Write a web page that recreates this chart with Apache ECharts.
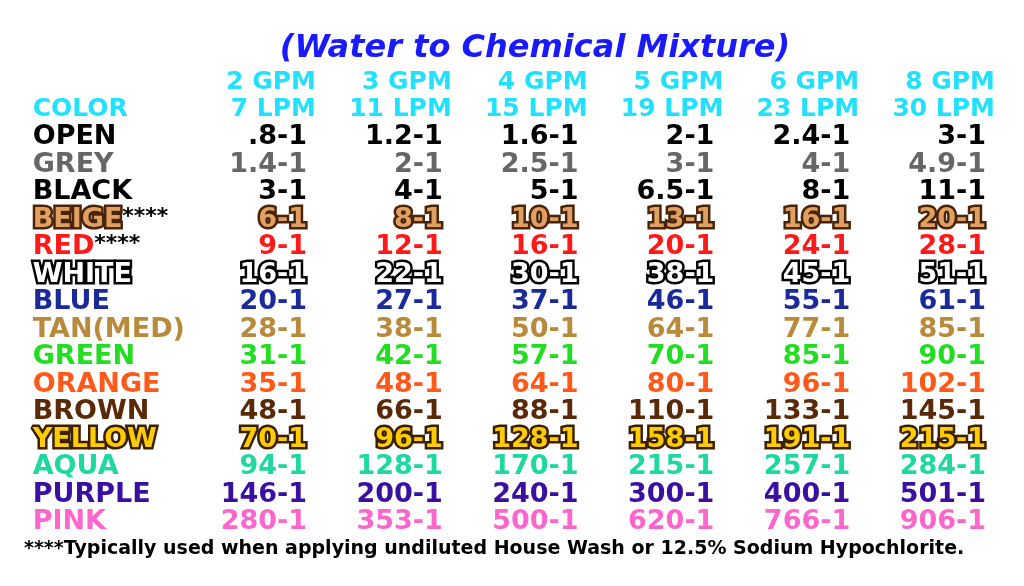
<!DOCTYPE html>
<html><head><meta charset="utf-8">
<script src="https://cdn.jsdelivr.net/npm/echarts@6/dist/echarts.min.js"></script>
<style>html,body{margin:0;padding:0;background:#fff}#c{width:1024px;height:586px}</style>
</head><body><div id="c"></div>
<script>
const title = "(Water to Chemical Mixture)";
const gpm = ["2 GPM","3 GPM","4 GPM","5 GPM","6 GPM","8 GPM"];
const lpm = ["7 LPM","11 LPM","15 LPM","19 LPM","23 LPM","30 LPM"];
const colorNames = ["OPEN","GREY","BLACK","BEIGE","RED","WHITE","BLUE","TAN(MED)","GREEN","ORANGE","BROWN","YELLOW","AQUA","PURPLE","PINK"];
const starred = ["BEIGE","RED"];
const ratios = [
  [".8-1","1.2-1","1.6-1","2-1","2.4-1","3-1"],
  ["1.4-1","2-1","2.5-1","3-1","4-1","4.9-1"],
  ["3-1","4-1","5-1","6.5-1","8-1","11-1"],
  ["6-1","8-1","10-1","13-1","16-1","20-1"],
  ["9-1","12-1","16-1","20-1","24-1","28-1"],
  ["16-1","22-1","30-1","38-1","45-1","51-1"],
  ["20-1","27-1","37-1","46-1","55-1","61-1"],
  ["28-1","38-1","50-1","64-1","77-1","85-1"],
  ["31-1","42-1","57-1","70-1","85-1","90-1"],
  ["35-1","48-1","64-1","80-1","96-1","102-1"],
  ["48-1","66-1","88-1","110-1","133-1","145-1"],
  ["70-1","96-1","128-1","158-1","191-1","215-1"],
  ["94-1","128-1","170-1","215-1","257-1","284-1"],
  ["146-1","200-1","240-1","300-1","400-1","501-1"],
  ["280-1","353-1","500-1","620-1","766-1","906-1"]
];
const footnote = "****Typically used when applying undiluted House Wash or 12.5% Sodium Hypochlorite.";

const fills = ["#000","#666","#000","#e0a062","#ff1a1a","#fff","#1a2a9a","#b88a3c","#22dd22","#ff5a1a","#5a2a08","#ffcc00","#1ed8a0","#3a10a0","#ff66cc"];
const borders = {3:"#4a2408",5:"#000",11:"#3a2000"};
const FONT = "DejaVu Sans";
function styleFor(i){
  const s = {color:fills[i],fontFamily:FONT,fontWeight:'bold',fontSize:27,opacity:1};
  if (borders[i]!==undefined){ s.textBorderColor=borders[i]; s.textBorderWidth=5; }
  return s;
}
const base = {type:'scatter',symbolSize:0,clip:false,silent:true,itemStyle:{opacity:1}};
const series = [];
ratios.forEach((row,i)=>{
  series.push({...base,
    data:row.map((v,j)=>({value:[j,i],label:{formatter:v}})),
    label:{show:true,position:'left',distance:0,align:'right',...styleFor(i)}});
});
series.push({...base,
  data:colorNames.map((n,i)=>({value:[-2.02,i],label:{
    formatter: starred.includes(n)? '{a|'+n+'}{s|****}' : '{a|'+n+'}',
    rich:{a:styleFor(i),s:{color:'#000',fontFamily:FONT,fontWeight:'bold',fontSize:22,verticalAlign:'top',padding:[0,0,0,0]}}}})),
  label:{show:true,position:'right',distance:0,align:'left',opacity:1}});
const hdr = {color:'#22e0ff',fontFamily:FONT,fontWeight:'bold',fontSize:25,opacity:1};
series.push({...base,
  data:gpm.map((g,j)=>({value:[j,-2],label:{formatter:g}})).concat(lpm.map((l,j)=>({value:[j,-1],label:{formatter:l}}))),
  label:{show:true,position:'left',distance:-9,align:'right',...hdr}});
series.push({...base,
  data:[{value:[-2.02,-1],label:{formatter:'COLOR'}}],
  label:{show:true,position:'right',distance:0,align:'left',...hdr}});

const chart = echarts.init(document.getElementById('c'));
chart.setOption({
  backgroundColor:'#fff',animation:false,
  title:{text:title,left:530,top:28,textAlign:'center',
    textStyle:{color:'#1a1aff',fontFamily:FONT,fontWeight:'bold',fontStyle:'italic',fontSize:32}},
  grid:{left:307,width:679,top:82,height:440},
  xAxis:{type:'value',min:0,max:5,show:false},
  yAxis:{type:'value',min:-2,max:14,inverse:true,show:false},
  graphic:[{type:'text',left:24,top:540,style:{text:footnote,fill:'#000',font:'bold 19px "DejaVu Sans"'}}],
  series
});
</script></body></html>
